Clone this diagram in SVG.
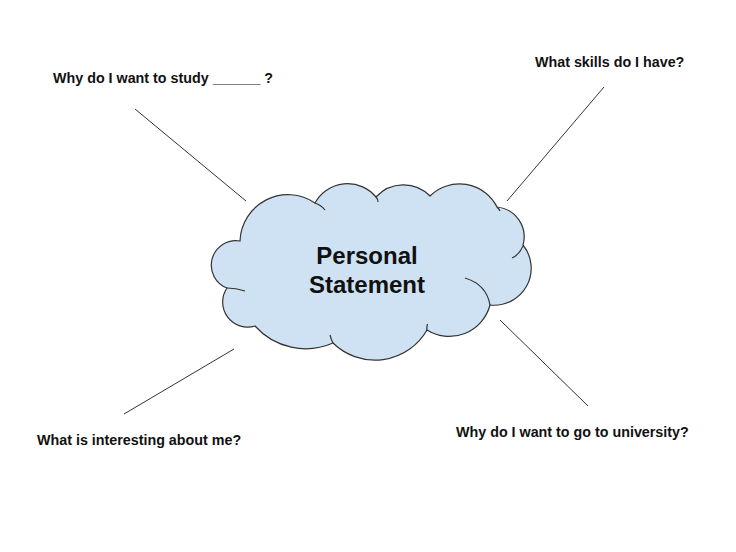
<svg xmlns="http://www.w3.org/2000/svg" width="736" height="552" viewBox="0 0 736 552">
<style>
.lbl{font-family:"Liberation Sans",Arial,sans-serif;font-weight:bold;font-size:14.3px;fill:#111}
.title{font-family:"Liberation Sans",Arial,sans-serif;font-weight:bold;font-size:24px;fill:#111}
.conn{stroke:#333;stroke-width:1;fill:none}
.cloud{fill:#cfe2f3;stroke:#333;stroke-width:1.2}
.tail{fill:none;stroke:#333;stroke-width:1.2}
</style>
<rect width="736" height="552" fill="#fff"/>
<g id="connectors">
<line class="conn" x1="135" y1="109" x2="246" y2="201"/>
<line class="conn" x1="604" y1="87" x2="507" y2="201"/>
<line class="conn" x1="234" y1="349" x2="124" y2="414"/>
<line class="conn" x1="500" y1="320" x2="588" y2="406"/>
</g>
<g id="cloud">
<path class="cloud" d="M240,241 A48,48 0 0 1 315,203 A37,37 0 0 1 376,197 A37,37 0 0 1 430,196 A42,42 0 0 1 497,207 A30,30 0 0 1 523,245 A37,37 0 0 1 490,305 A42,42 0 0 1 427,330 A60,60 0 0 1 333,343 A68,68 0 0 1 255,326 A25,25 0 0 1 227,288 A24.5,24.5 0 0 1 240,241 Z"/>
<path class="tail" d="M315,203 Q321,205 325,210 M376,197 Q378,199 378,202 M497,207 Q499,209 500,211 M523,246 Q519,255 512,258 M465,278 Q486.5,284.5 490,305 M427,331 Q426.5,327 427.5,324 M333,343 Q331,339 330,335 M227,288 Q236,288 245,291"/>
<text class="title" x="367" y="264" text-anchor="middle">Personal</text>
<text class="title" x="367" y="293" text-anchor="middle">Statement</text>
</g>
<g id="q-study"><text class="lbl" x="53" y="83">Why do I want to study ______ ?</text></g>
<g id="q-skills"><text class="lbl" x="535" y="67">What skills do I have?</text></g>
<g id="q-university"><text class="lbl" x="456" y="437">Why do I want to go to university?</text></g>
<g id="q-interesting"><text class="lbl" x="37" y="445">What is interesting about me?</text></g>
</svg>
